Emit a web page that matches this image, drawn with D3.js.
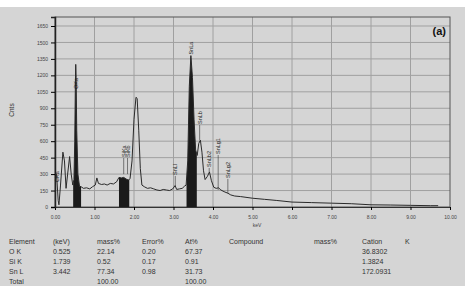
<!DOCTYPE html>
<html>
<head>
<meta charset="utf-8">
<script src="https://cdn.jsdelivr.net/npm/d3@7"></script>
<style>
  body { margin: 0; background: #fff; }
  svg { display: block; font-family: "Liberation Sans", Arial, sans-serif; }
</style>
</head>
<body>
<svg id="chart" width="474" height="286"></svg>
<script>
// spectrum (keV, counts)
var energy = [0.00, 0.04, 0.08, 0.10, 0.14, 0.20, 0.24, 0.28, 0.32, 0.37, 0.41, 0.45, 0.48, 0.50, 0.515, 0.525, 0.535, 0.55, 0.58, 0.62, 0.66, 0.72, 0.80, 0.88, 0.95, 1.02, 1.06, 1.10, 1.18, 1.25, 1.32, 1.40, 1.48, 1.56, 1.62, 1.68, 1.74, 1.80, 1.86, 1.90, 1.95, 2.00, 2.05, 2.08, 2.12, 2.16, 2.20, 2.26, 2.34, 2.42, 2.50, 2.58, 2.66, 2.74, 2.82, 2.90, 2.98, 3.04, 3.08, 3.15, 3.22, 3.28, 3.32, 3.36, 3.40, 3.44, 3.48, 3.52, 3.56, 3.60, 3.64, 3.68, 3.72, 3.76, 3.80, 3.86, 3.91, 3.96, 4.02, 4.08, 4.14, 4.20, 4.28, 4.38, 4.45, 4.55, 4.70, 5.00, 5.30, 5.60, 6.00, 6.50, 7.00, 7.50, 8.00, 8.50, 9.00, 9.50, 9.70];
var counts = [310, 300, 60, 20, 200, 500, 420, 170, 300, 460, 300, 200, 250, 600, 1100, 1300, 1180, 700, 300, 190, 185, 170, 175, 165, 185, 200, 265, 215, 205, 210, 200, 215, 210, 230, 270, 265, 270, 255, 245, 260, 420, 800, 1000, 990, 700, 350, 200, 185, 170, 175, 165, 155, 150, 160, 155, 150, 165, 195, 160, 165, 170, 190, 200, 420, 1100, 1380, 1180, 800, 520, 470, 580, 610, 500, 330, 250, 280, 320, 240, 180, 170, 175, 155, 140, 125, 110, 100, 95, 80, 70, 60, 45, 40, 35, 30, 20, 18, 15, 12, 12];

// shaded regions of interest (keV)
var roiStart = [0.46, 1.62, 3.33];
var roiEnd = [0.66, 1.88, 3.59];

// peak labels
var peakNames = ["CKa", "OKa", "SiKa", "SiKb", "SnLl", "SnLa", "SnLb", "SnLb2", "SnLg1", "SnLg2"];
var peakKeV = [0.05, 0.525, 1.739, 1.836, 3.045, 3.443, 3.662, 3.904, 4.131, 4.376];
var labelBase = [228, 1076, 456, 456, 292, 1390, 757, 365, 483, 265];
var markerEnd = [228, 1076, 300, 300, 190, 1380, 611, 320, 155, 128];

var xTicks = [0, 1, 2, 3, 4, 5, 6, 7, 8, 9, 10];
var yTicks = [0, 150, 300, 450, 600, 750, 900, 1050, 1200, 1350, 1500, 1650];

// quantification table
var tableHead = ["Element", "(keV)", "mass%", "Error%", "At%", "Compound", "mass%", "Cation", "K"];
var elements = ["O  K", "Si K", "Sn L", "Total"];
var lineKeV = ["0.525", "1.739", "3.442", ""];
var massPct = ["22.14", "0.52", "77.34", "100.00"];
var errPct = ["0.20", "0.17", "0.98", ""];
var atPct = ["67.37", "0.91", "31.73", "100.00"];
var cation = ["36.8302", "1.3824", "172.0931", ""];

var svg = d3.select("#chart");

svg.append("rect").attr("x", 0).attr("y", 7).attr("width", 465).attr("height", 279)
  .attr("fill", "#d5d5d5");

var x = d3.scaleLinear().domain([0, 10]).range([55, 450]);
var y = d3.scaleLinear().domain([0, 1732]).range([207, 17]);

// grid
svg.append("g").selectAll("line").data(yTicks.slice(1)).enter().append("line")
  .attr("x1", x(0)).attr("x2", x(10))
  .attr("y1", function(d) { return y(d); }).attr("y2", function(d) { return y(d); })
  .attr("stroke", "#a0a0a0").attr("stroke-width", 1);
svg.append("g").selectAll("line").data(xTicks.slice(1, -1)).enter().append("line")
  .attr("y1", y(0)).attr("y2", y(1732))
  .attr("x1", function(d) { return x(d); }).attr("x2", function(d) { return x(d); })
  .attr("stroke", "#a0a0a0").attr("stroke-width", 1);

// frame
svg.append("rect").attr("x", x(0)).attr("y", y(1732)).attr("width", x(10) - x(0)).attr("height", y(0) - y(1732))
  .attr("fill", "none").attr("stroke", "#555").attr("stroke-width", 1);

var pts = energy.map(function(e, i) { return [e, counts[i]]; });

// filled ROI
var area = d3.area().x(function(d) { return x(d[0]); }).y0(y(0)).y1(function(d) { return y(d[1]); });
roiStart.forEach(function(s, i) {
  svg.append("clipPath").attr("id", "roi" + i).append("rect")
    .attr("x", x(s)).attr("y", 0).attr("width", x(roiEnd[i]) - x(s)).attr("height", 286);
  svg.append("path").datum(pts).attr("d", area).attr("fill", "#1a1a1a")
    .attr("clip-path", "url(#roi" + i + ")");
});

// spectrum line
var line = d3.line().x(function(d) { return x(d[0]); }).y(function(d) { return y(d[1]); });
svg.append("path").datum(pts).attr("d", line)
  .attr("fill", "none").attr("stroke", "#2a2a2a").attr("stroke-width", 1);

// axes
var xAxis = d3.axisBottom(x).tickValues(xTicks).tickFormat(d3.format(".2f")).tickSize(3);
var gx = svg.append("g").attr("transform", "translate(0," + y(0) + ")").call(xAxis);
gx.select(".domain").attr("stroke", "#333");
gx.selectAll("text").attr("font-size", 5).attr("fill", "#444").attr("dy", "1.1em");

var yAxis = d3.axisLeft(y).tickValues(yTicks).tickFormat(d3.format("d")).tickSize(4);
var gy = svg.append("g").attr("transform", "translate(" + x(0) + ",0)").call(yAxis);
gy.select(".domain").attr("stroke", "#222").attr("stroke-width", 1.5);
gy.selectAll("text").attr("font-size", 5).attr("fill", "#444");

// peak labels
peakNames.forEach(function(n, i) {
  var px = x(peakKeV[i]);
  if (markerEnd[i] < labelBase[i]) {
    svg.append("line").attr("x1", px).attr("x2", px)
      .attr("y1", y(labelBase[i]) + 1).attr("y2", y(markerEnd[i]))
      .attr("stroke", "#333").attr("stroke-width", 0.6);
  }
  svg.append("text").attr("transform", "translate(" + (px + 2) + "," + y(labelBase[i]) + ") rotate(-90)")
    .attr("font-size", 5.5).attr("fill", "#1a1a1a").text(n);
});

// titles
svg.append("text").attr("transform", "translate(14,110) rotate(-90)")
  .attr("text-anchor", "middle").attr("font-size", 6.5).attr("fill", "#333").text("Cnts");
svg.append("text").attr("x", 257).attr("y", 227).attr("text-anchor", "middle")
  .attr("font-size", 5).attr("fill", "#444").text("keV");
svg.append("text").attr("x", 446).attr("y", 35).attr("text-anchor", "end")
  .attr("font-size", 11).attr("font-weight", "bold").attr("fill", "#111").text("(a)");

// table
var colX = [9, 53, 97, 142, 185, 229, 314, 362, 405];
var rowY = [244, 254, 264, 274, 284];
var tbl = svg.append("g").attr("font-size", 7).attr("fill", "#333");
tableHead.forEach(function(h, i) {
  tbl.append("text").attr("x", colX[i]).attr("y", rowY[0]).text(h);
});
var cols = [elements, lineKeV, massPct, errPct, atPct];
elements.forEach(function(e, r) {
  cols.forEach(function(c, i) {
    tbl.append("text").attr("x", colX[i]).attr("y", rowY[r + 1]).text(c[r]);
  });
  tbl.append("text").attr("x", colX[7]).attr("y", rowY[r + 1]).text(cation[r]);
});
</script>
</body>
</html>
